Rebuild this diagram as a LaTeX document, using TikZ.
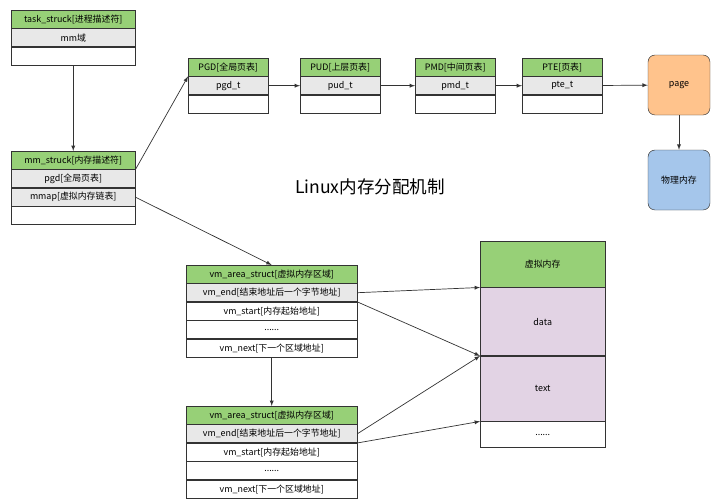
\documentclass[tikz,border=0pt]{standalone}
\usepackage{fontspec}
\setmainfont{Noto Sans CJK SC}
\usetikzlibrary{positioning}
\definecolor{hdrgreen}{RGB}{151,208,119}
\definecolor{pagec}{RGB}{255,195,140}
\definecolor{physc}{RGB}{165,198,235}
\definecolor{pinkc}{RGB}{226,211,228}
\begin{document}
\begin{tikzpicture}
	[x=0.03cm, y=-0.03cm, >=latex, node distance=0pt,
	every node/.style={font=\fontsize{7.6}{9}\selectfont, inner sep=1pt},
	hdr/.style={draw=black!80, fill=hdrgreen, minimum height=18*0.03cm, anchor=north west},
	cell/.style={draw=black!80, fill=white, minimum height=18*0.03cm},
	cellg/.style={cell, fill=black!9},
	box/.style={draw=black!80, rounded corners=6pt, minimum width=62*0.03cm, minimum height=60*0.03cm},
	arr/.style={->, draw=black!80, semithick}]
	\useasboundingbox (0,0) rectangle (720,502);
	% task_struck
	\node (task) [hdr, minimum width=124*0.03cm] at (11,10) {task\_struck[进程描述符]};
	\node (mmf) [cellg, minimum width=124*0.03cm, below=of task] {mm域};
	\node (task3) [cell, minimum width=124*0.03cm, below=of mmf] {};
	% mm_struck
	\node (mm) [hdr, minimum width=124*0.03cm] at (11,151) {mm\_struck[内存描述符]};
	\node (pgd) [cellg, minimum width=124*0.03cm, below=of mm] {pgd[全局页表]};
	\node (mmap) [cellg, minimum width=124*0.03cm, below=of pgd] {mmap[虚拟内存链表]};
	\node (mm4) [cell, minimum width=124*0.03cm, below=of mmap] {};
	% page tables
	\node (PGD) [hdr, minimum width=80*0.03cm] at (188,58) {PGD[全局页表]};
	\node (pgdt) [cellg, minimum width=80*0.03cm, below=of PGD] {pgd\_t};
	\node [cell, minimum width=80*0.03cm, below=of pgdt] {};
	\node (PUD) [hdr, minimum width=80*0.03cm] at (300,58) {PUD[上层页表]};
	\node (pudt) [cellg, minimum width=80*0.03cm, below=of PUD] {pud\_t};
	\node [cell, minimum width=80*0.03cm, below=of pudt] {};
	\node (PMD) [hdr, minimum width=80*0.03cm] at (415,58) {PMD[中间页表]};
	\node (pmdt) [cellg, minimum width=80*0.03cm, below=of PMD] {pmd\_t};
	\node [cell, minimum width=80*0.03cm, below=of pmdt] {};
	\node (PTE) [hdr, minimum width=80*0.03cm] at (522,58) {PTE[页表]};
	\node (ptet) [cellg, minimum width=80*0.03cm, below=of PTE] {pte\_t};
	\node [cell, minimum width=80*0.03cm, below=of ptet] {};
	\node (page) [box, fill=pagec] at (679,85) {page};
	\node (phys) [box, fill=physc] at (679,180) {物理内存};
	\node (title) [font=\fontsize{15}{17}\selectfont] at (370,187) {Linux内存分配机制};
	% vm_area_struct
	\node (vma) [hdr, minimum width=171*0.03cm] at (186,265) {vm\_area\_struct[虚拟内存区域]};
	\node (vend) [cellg, minimum width=171*0.03cm, below=of vma] {vm\_end[结束地址后一个字节地址]};
	\node (vstart) [cell, minimum width=171*0.03cm, below=of vend] {vm\_start[内存起始地址]};
	\node (vdots) [cell, minimum width=171*0.03cm, below=of vstart] {......};
	\node (vnext) [cell, minimum width=171*0.03cm, below=of vdots] {vm\_next[下一个区域地址]};
	\node (vmb) [hdr, minimum width=171*0.03cm] at (186,406) {vm\_area\_struct[虚拟内存区域]};
	\node (vendb) [cellg, minimum width=171*0.03cm, below=of vmb] {vm\_end[结束地址后一个字节地址]};
	\node (vstartb) [cell, minimum width=171*0.03cm, below=of vendb] {vm\_start[内存起始地址]};
	\node (vdotsb) [cell, minimum width=171*0.03cm, below=of vstartb] {......};
	\node (vnextb) [cell, minimum width=171*0.03cm, below=of vdotsb] {vm\_next[下一个区域地址]};
	% virtual memory
	\node (virt) [hdr, minimum width=125*0.03cm, minimum height=46*0.03cm] at (480,241) {虚拟内存};
	\node (data) [cell, fill=pinkc, minimum width=125*0.03cm, minimum height=68*0.03cm, below=of virt] {data};
	\node (text) [cell, fill=pinkc, minimum width=125*0.03cm, minimum height=65*0.03cm, below=of data] {text};
	\node (vdot) [cell, minimum width=125*0.03cm, minimum height=26*0.03cm, below=of text] {......};
	% arrows
	\draw [arr] (task3.south) -- (mm.north);
	\draw [arr] (pgd.north east) -- (PGD.south west);
	\draw [arr] (pgdt) -- (pudt);
	\draw [arr] (pudt) -- (pmdt);
	\draw [arr] (pmdt) -- (ptet);
	\draw [arr] (ptet) -- (page);
	\draw [arr] (page) -- (phys);
	\draw [arr] (mmap.east) -- (vma.north);
	\draw [arr] (vnext.south) -- (vmb.north);
	\draw [arr] (vend.east) -- (data.north west);
	\draw [arr] (vstart.north east) -- (data.south west);
	\draw [arr] (vendb.east) -- (text.north west);
	\draw [arr] (vstartb.north east) -- (text.south west);
\end{tikzpicture}
\end{document}
